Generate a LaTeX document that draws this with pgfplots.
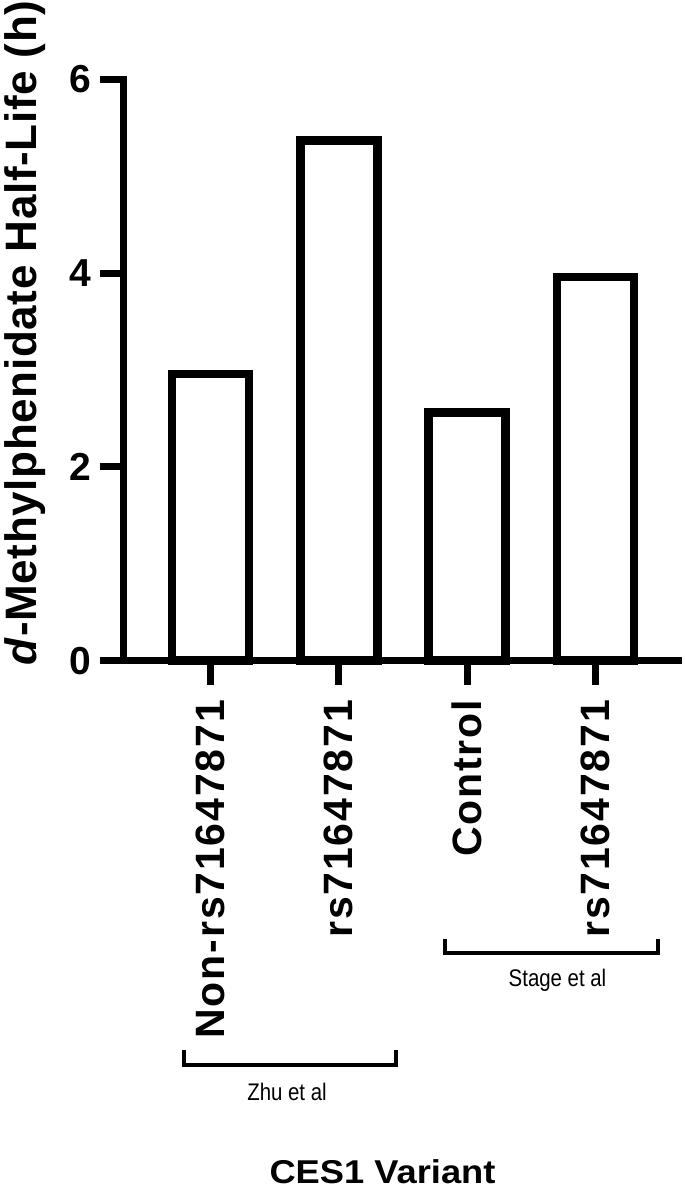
\documentclass[border=0pt]{standalone}
\usepackage{fontspec}
\setmainfont{Liberation Sans}
\usepackage{graphicx}
\usepackage{pgfplots}
\pgfplotsset{compat=1.18}
\usetikzlibrary{calc}
\begin{document}
\begin{tikzpicture}
\begin{axis}[
  name=ax,
  at={(0,0)}, anchor=south west,
  scale only axis,
  width=557.7pt, height=581.4pt,
  xmin=-0.674, xmax=3.673,
  ymin=0, ymax=6,
  clip=false,
  axis y line*=left,
  axis x line*=bottom,
  x axis line style={draw=none},
  y axis line style={line width=7pt, line cap=rect},
  ytick={0,2,4,6},
  xtick={0,1,2,3},
  xticklabels={Non-rs71647871,rs71647871,Control,rs71647871},
  tick align=outside,
  major tick length=24pt,
  tick style={line width=7pt, black},
  /pgf/number format/assume math mode=true,
  yticklabel style={font=\bfseries\fontsize{39}{39}\selectfont, inner sep=0pt, anchor=east, xshift=-9pt},
  xticklabel style={font=\bfseries\fontsize{41}{41}\selectfont\addfontfeature{LetterSpace=4.5}, inner sep=0pt, yshift=-15pt, rotate=90, anchor=east},
  ybar, bar width=77pt,
]
\addplot[ybar, draw=black, fill=white, line width=8.5pt] coordinates {(0,2.96) (1,5.37) (2,2.56) (3,3.96)};
\end{axis}
\begin{scope}[shift={($(ax.south west)+(-124pt,660.7pt)$)}, x=1pt, y=-1pt]
 \draw[line width=7pt] (101,660.7) -- (681.7,660.7);
 \draw[line width=3.5pt] (445,939) -- (445,953) -- (658,953) -- (658,939);
 \draw[line width=3.5pt] (184,1050) -- (184,1065) -- (396,1065) -- (396,1050);
 \node[anchor=base, font=\fontsize{24}{24}\selectfont, inner sep=0pt] at (557.5,986) {\scalebox{0.85}[1]{Stage et al}};
 \node[anchor=base, font=\fontsize{24}{24}\selectfont, inner sep=0pt] at (287,1100) {\scalebox{0.85}[1]{Zhu et al}};
 \node[anchor=base, font=\bfseries\fontsize{33}{33}\selectfont, inner sep=0pt] at (382.5,1183) {\scalebox{1.1}[1]{CES1 Variant}};
 \node[anchor=base, rotate=90, font=\bfseries\fontsize{44}{44}\selectfont\addfontfeature{LetterSpace=1.5}, inner sep=0pt] at (37,333) {\textit{d}-Methylphenidate Half-Life (h)};
 \pgfresetboundingbox
 \path[use as bounding box] (0,0) rectangle (685,1200);
\end{scope}
\end{tikzpicture}
\end{document}
